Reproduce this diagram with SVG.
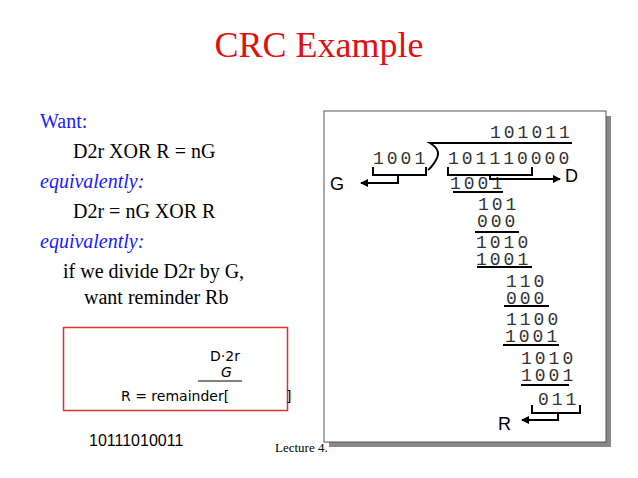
<svg xmlns="http://www.w3.org/2000/svg" width="638" height="478" viewBox="0 0 638 478">
<style>
.s{font-family:"Liberation Serif",serif;font-size:20px}
.b{fill:#1a1aff}
.m{font-family:"Liberation Mono",monospace;font-size:18px;letter-spacing:3px;fill:#333}
.l{stroke:#000;stroke-width:2;fill:none}
.a{font-family:"Liberation Sans",Arial,sans-serif}
</style>
<defs><marker id="ar" markerWidth="8" markerHeight="8" refX="7" refY="4" orient="auto" markerUnits="userSpaceOnUse"><path d="M0,0 L8,4 L0,8z" fill="#000"/></marker></defs>
<rect width="638" height="478" fill="#fff"/>
<text x="319" y="57" text-anchor="middle" font-family="Liberation Serif,serif" font-size="36" fill="#e01010">CRC Example</text>
<g id="left">
<text x="40" y="128" class="s b">Want:</text>
<text x="73" y="158" class="s">D2r XOR R = nG</text>
<text x="40" y="188" class="s b" font-style="italic">equivalently:</text>
<text x="73" y="218" class="s">D2r = nG XOR R</text>
<text x="40" y="248" class="s b" font-style="italic">equivalently:</text>
<text x="63" y="278" class="s">if we divide D2r by G,</text>
<text x="84" y="304" class="s">want reminder Rb</text>
</g>
<text x="275" y="452" font-family="Liberation Serif,serif" font-size="13">Lecture 4.</text>
<g id="redbox">
<rect x="63.5" y="327.5" width="224" height="83" fill="#fff" stroke="#e03030" stroke-width="1.5"/>
<text x="210" y="361" font-family="DejaVu Sans,sans-serif" font-size="14">D·2r</text>
<text x="221" y="377" font-family="DejaVu Sans,sans-serif" font-size="14" font-style="italic">G</text>
<line x1="198" y1="381" x2="242" y2="381" stroke="#000"/>
<text x="121" y="401" font-family="DejaVu Sans,sans-serif" font-size="14">R = remainder[</text>
<text x="286" y="401" font-family="DejaVu Sans,sans-serif" font-size="14">]</text>
</g>
<text x="89" y="446" class="a" font-size="16">10111010011</text>
<g id="division">
<rect x="329" y="116" width="282" height="331" fill="#888"/>
<rect x="324" y="111" width="282" height="331" fill="#fff" stroke="#555" stroke-width="1"/>
<text x="490" y="138" class="m">101011</text>
<text x="373" y="164" class="m">1001</text>
<text x="448" y="164" class="m">101110000</text>
<text x="450" y="189" class="m">1001</text>
<text x="478" y="210" class="m">101</text>
<text x="477" y="227" class="m">000</text>
<text x="476" y="248" class="m">1010</text>
<text x="476" y="265" class="m">1001</text>
<text x="506" y="287" class="m">110</text>
<text x="506" y="304" class="m">000</text>
<text x="506" y="325" class="m">1100</text>
<text x="505" y="342" class="m">1001</text>
<text x="521" y="364" class="m">1010</text>
<text x="521" y="381" class="m">1001</text>
<text x="538" y="405" class="m">011</text>
<text x="330" y="190" class="a" font-size="18">G</text>
<text x="565" y="182" class="a" font-size="18">D</text>
<text x="498" y="430" class="a" font-size="18">R</text>
</g>
<g id="connectors" class="l">
<path d="M572,143 H430 Q442,150 436,160 Q432,167 428,170"/>
<line x1="453" y1="192" x2="503" y2="192"/>
<line x1="475" y1="232" x2="519" y2="232"/>
<line x1="477" y1="267" x2="532" y2="267"/>
<line x1="504" y1="306" x2="549" y2="306"/>
<line x1="503" y1="345" x2="559" y2="345"/>
<line x1="521" y1="385" x2="569" y2="385"/>
<path d="M373,167 V175 H426 V167 M398,175 V183 H361" marker-end="url(#ar)"/>
<path d="M448,167 V175 H532 V167 M490,175 V179 H560" marker-end="url(#ar)"/>
<path d="M532,405 V413 H580 V405 M558,413 V420 H522" marker-end="url(#ar)"/>
</g>
</svg>
